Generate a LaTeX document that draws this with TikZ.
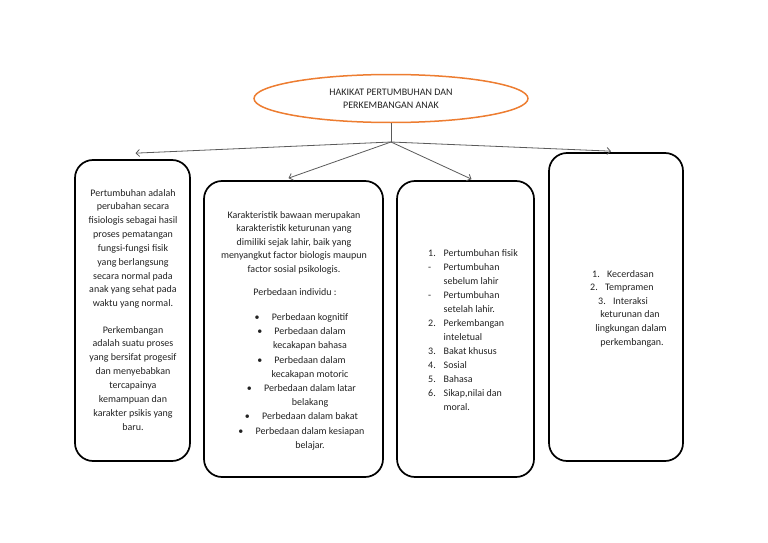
\documentclass[tikz,border=0pt]{standalone}
\usepackage{fontspec}
\setmainfont{Carlito}
\usetikzlibrary{shapes.geometric,arrows.meta}
\definecolor{orng}{HTML}{ED7D31}
\definecolor{lin}{HTML}{5A5A5A}
\definecolor{ink}{HTML}{222222}
\begin{document}
\begin{tikzpicture}[x=1pt,y=-1pt,
  box/.style={draw=black,line width=1.7pt,rounded corners=18pt,inner sep=0pt},
  txt/.style={inner sep=0pt,anchor=base,text=ink,font=\fontsize{10}{12}\selectfont},
  txtw/.style={txt,anchor=base west},
  conn/.style={draw=lin,line width=0.8pt},
  arr/.style={conn,-{Straight Barb[length=3.5pt,width=7pt]}}
]
\useasboundingbox (0,0) rectangle (768,543);

% title
\node[ellipse,draw=orng,line width=1.5pt,minimum width=274,minimum height=48,
      inner sep=0pt,align=center,text=ink,font=\fontsize{10}{13}\selectfont]
      (title) at (391,98.5) {HAKIKAT PERTUMBUHAN DAN\\PERKEMBANGAN ANAK};

% boxes
\node[box,minimum width=115,minimum height=301] (b1) at (132.5,310.5) {};
\node[box,minimum width=179,minimum height=296] (b2) at (293.5,329) {};
\node[box,minimum width=137,minimum height=296] (b3) at (465.5,329) {};
\node[box,minimum width=134,minimum height=308] (b4) at (616,307) {};

% connectors
\coordinate (br) at (391,142);
\draw[conn] (title.south) -- (br);
\draw[arr] (br) -- ([xshift=3pt,yshift=6pt]b1.north);
\draw[arr] (br) -- ([xshift=-5pt,yshift=2pt]b2.north);
\draw[arr] (br) -- ([xshift=6pt,yshift=1pt]b3.north);
\draw[arr] (br) -- ([xshift=-5pt,yshift=1pt]b4.north);

% box 1
\foreach \t [count=\i from 0] in {Pertumbuhan adalah, perubahan secara,
  fisiologis sebagai hasil, proses pematangan, fungsi-fungsi fisik,
  yang berlangsung, secara normal pada, anak yang sehat pada, waktu yang normal.}
  \node[txt] (pa\i) at (133,{196+13.85*\i}) {\t};
\foreach \t [count=\i from 0] in {Perkembangan, adalah suatu proses,
  yang bersifat progesif, dan menyebabkan, tercapainya, kemampuan dan,
  karakter psikis yang, baru.}
  \node[txt] (pb\i) at (133,{333+13.9*\i}) {\t};

% box 2
\foreach \t [count=\i from 0] in {Karakteristik bawaan merupakan,
  karakteristik keturunan yang, {dimiliki sejak lahir, baik yang},
  menyangkut factor biologis maupun, factor sosial psikologis.}
  \node[txt] (ka\i) at (294,{218+13.5*\i}) {\t};
\node[txt] (ind) at (295,295) {Perbedaan individu :};
\foreach \k/\t in {0/Perbedaan kognitif,1/Perbedaan dalam,3/Perbedaan dalam,
  5/Perbedaan dalam latar,7/Perbedaan dalam bakat,8/Perbedaan dalam kesiapan}{
  \node[txt] (bl\k) at (310,{320.5+14.2*\k}) {\t};
  \node[txt] (bu\k) at ([xshift=-14.5pt]bl\k.base west) {•};
}
\foreach \k/\t in {2/kecakapan bahasa,4/kecakapan motoric,6/belakang,9/belajar.}
  \node[txt] (bl\k) at (310,{320.5+14.2*\k}) {\t};

% box 3
\foreach \k/\n in {0/1.,1/-,3/-,5/2.,7/3.,8/4.,9/5.,10/6.}
  \node[txtw] (cn\k) at (428,{256+14*\k}) {\n};
\foreach \t [count=\k from 0] in {Pertumbuhan fisik, Pertumbuhan, sebelum lahir,
  Pertumbuhan, setelah lahir., Perkembangan, inteletual, Bakat khusus, Sosial,
  Bahasa, {Sikap,nilai dan}, moral.}
  \node[txtw] (ct\k) at (443.5,{256+14*\k}) {\t};

% box 4
\node[txtw] (dn0) at (592,277) {1.};
\node[txtw] (dt0) at (607,277) {Kecerdasan};
\node[txtw] (dn1) at (590,290.6) {2.};
\node[txtw] (dt1) at (605,290.6) {Tempramen};
\node[txtw] (dn2) at (598,304.2) {3.};
\node[txtw] (dt2) at (613,304.2) {Interaksi};
\node[txt] (dt3) at (630,317.8) {keturunan dan};
\node[txt] (dt4) at (631,331.4) {lingkungan dalam};
\node[txt] (dt5) at (632,345) {perkembangan.};
\end{tikzpicture}
\end{document}
